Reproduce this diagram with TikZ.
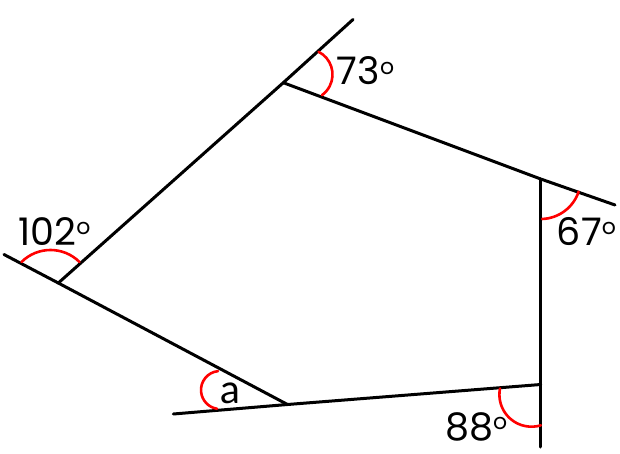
\documentclass[tikz,border=0pt]{standalone}
\usepackage{fontspec}
\setmainfont{Poppins}
\newfontfamily\afont{Lato}
\newcommand{\degmark}{\raisebox{10.5pt}{\fontsize{22}{22}\selectfont o}}
\tikzset{
  side/.style={line width=3pt, black, line cap=round},
  anglearc/.style={line width=2.6pt, red, line cap=round},
  lbl/.style={inner sep=0pt, anchor=base west, font=\fontsize{38}{40}\selectfont}
}
\begin{document}
\begin{tikzpicture}[x=1pt,y=1pt]
\useasboundingbox (0,0) rectangle (620,453);
% vertices
\coordinate (L) at (58.3,170);
\coordinate (T) at (283.3,370.3);
\coordinate (R) at (540.7,274);
\coordinate (BR) at (540.7,68.5);
\coordinate (B) at (287.5,48.5);
% free ends
\coordinate (Tend) at (353,433.5);
\coordinate (Rend) at (615,248);
\coordinate (BRend) at (540.7,6);
\coordinate (Bend) at (173.3,39);
\coordinate (Lend) at (4,198.5);
% sides
\draw[side] (L) -- (T) -- (Tend);
\draw[side] (T) -- (R) -- (Rend);
\draw[side] (R) -- (BR) -- (BRend);
\draw[side] (BR) -- (B) -- (Bend);
\draw[side] (B) -- (L) -- (Lend);
% angle arcs
\draw[anglearc] (50.5,162) ++(135:41) arc (135:45:41);
\draw[anglearc] (307,378.5) ++(63:25.5) arc (63:-54:25.5);
\draw[anglearc] (R) ++(-18.5:40) arc (-18.5:-88:40);
\draw[anglearc] (531.5,58.4) ++(169:32.1) arc (169:287:32.1);
\draw[anglearc] (220,63) ++(96:19) arc (96:261:19);
% labels
\node[lbl] (l102) at (18.3,208) {102\degmark};
\node[lbl] (l73) at (336.7,368) {73\degmark};
\node[lbl] (l67) at (556.7,208) {67\degmark};
\node[lbl] (l88) at (445,13) {88\degmark};
\node[lbl, font=\afont\fontsize{40}{42}\selectfont] (la) at (220.5,49.7) {a};
\end{tikzpicture}
\end{document}
